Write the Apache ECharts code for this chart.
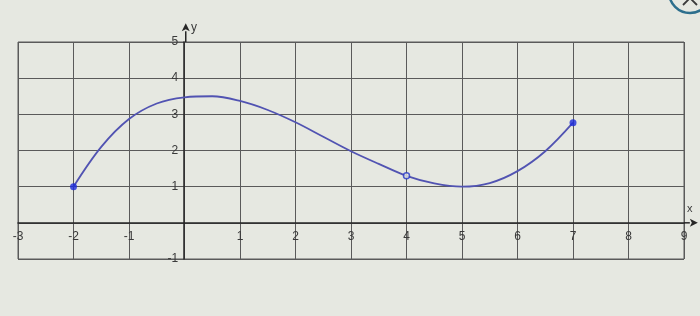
<!DOCTYPE html>
<html><head><meta charset="utf-8">
<script src="https://cdn.jsdelivr.net/npm/echarts@6/dist/echarts.min.js"></script>
<style>html,body{margin:0;padding:0;background:#e6e8e1}#c{width:700px;height:316px}</style>
</head><body><div id="c"></div>
<script>
// Curve
const curveX = [-2, -1.5, -1, -0.5, 0, 0.5, 1, 1.5, 2, 2.5, 3, 3.5, 4, 4.5, 5, 5.5, 6, 6.5, 7];
const curveY = [1.0, 2.1, 2.87, 3.3, 3.47, 3.5, 3.37, 3.12, 2.78, 2.38, 1.98, 1.63, 1.3, 1.09, 1.0, 1.1, 1.43, 1.98, 2.77];
const closedPoints = [[-2, 1.0], [7, 2.77]];
const openPoints = [[4, 1.3]];
const xRange = [-3, 9];
const yRange = [-1, 5];
const xArrowTip = 9.25;
const yArrowTip = 5.52;

const bg = '#e6e8e1';
const gridColor = '#5a5a5a';
const axisColor = '#262626';
const textColor = '#3a3a3a';
const font = 'Liberation Sans, Arial, sans-serif';
const G = {left: 18, right: 16, top: 42, bottom: 57};

const chart = echarts.init(document.getElementById('c'), null, {renderer: 'canvas'});
const hideZero = v => (v === 0 ? '' : String(v));

chart.setOption({
  backgroundColor: bg,
  animation: false,
  grid: Object.assign({show: true, borderColor: gridColor, borderWidth: 1, backgroundColor: 'transparent'}, G),
  xAxis: {
    type: 'value', min: xRange[0], max: xRange[1], interval: 1,
    name: 'x', nameLocation: 'end', nameGap: 3,
    nameTextStyle: {color: textColor, fontSize: 11, fontFamily: font, align: 'left', verticalAlign: 'bottom', padding: [0, 0, 8, 0]},
    axisLine: {show: true, onZero: false, lineStyle: {color: axisColor, width: 1.5}},
    axisTick: {show: false},
    axisLabel: {color: textColor, fontSize: 12, fontFamily: font, margin: 8, formatter: hideZero, showMinLabel: true, showMaxLabel: true},
    splitLine: {show: true, lineStyle: {color: gridColor, width: 1}}
  },
  yAxis: {
    type: 'value', min: yRange[0], max: yRange[1], interval: 1,
    name: 'y', nameLocation: 'end', nameGap: 8,
    nameTextStyle: {color: textColor, fontSize: 12, fontFamily: font, align: 'left', verticalAlign: 'bottom', padding: [0, 0, 0, 7]},
    axisLine: {show: true, onZero: false, lineStyle: {color: axisColor, width: 1.5}},
    axisTick: {show: false},
    axisLabel: {color: textColor, fontSize: 12, fontFamily: font, margin: 6, formatter: hideZero, showMinLabel: true, showMaxLabel: true},
    splitLine: {show: true, lineStyle: {color: gridColor, width: 1}}
  },
  series: [
    {
      name: 'f', type: 'line', smooth: 0.35, showSymbol: false, z: 3,
      data: curveX.map((x, i) => [x, curveY[i]]),
      lineStyle: {color: '#5153b2', width: 1.8}
    },
    {
      name: 'closed', type: 'scatter', symbolSize: 7, z: 4,
      data: closedPoints,
      itemStyle: {color: '#1b2bdc'}
    },
    {
      name: 'open', type: 'scatter', symbolSize: 6, z: 4,
      data: openPoints,
      itemStyle: {color: bg, borderColor: '#2636c8', borderWidth: 1.5}
    }
  ]
});

// Axes on the zero lines and their arrows, positioned via the library's own scale
const px = p => chart.convertToPixel({gridIndex: 0}, p);
const origin = px([0, 0]);
const corner = px([xRange[0], yRange[0]]);
const xEnd = px([xRange[1], 0]);
const xTip = px([xArrowTip, 0]);
const yEnd = px([0, yRange[1]]);
const yTip = px([0, yArrowTip]);
const ah = 8, aw = 4;
chart.setOption({
  xAxis: {offset: -(corner[1] - origin[1])},
  yAxis: {offset: -(origin[0] - corner[0])},
  graphic: [
    {type: 'line', silent: true, shape: {x1: xEnd[0], y1: xEnd[1], x2: xTip[0] - ah, y2: xTip[1]}, style: {stroke: axisColor, lineWidth: 1.5}},
    {type: 'polygon', silent: true, shape: {points: [[xTip[0], xTip[1]], [xTip[0] - ah, xTip[1] - aw], [xTip[0] - ah + 2, xTip[1]], [xTip[0] - ah, xTip[1] + aw]]}, style: {fill: axisColor}},
    {type: 'line', silent: true, shape: {x1: yEnd[0], y1: yEnd[1], x2: yTip[0], y2: yTip[1] + ah}, style: {stroke: axisColor, lineWidth: 1.5}},
    {type: 'polygon', silent: true, shape: {points: [[yTip[0], yTip[1]], [yTip[0] - aw, yTip[1] + ah], [yTip[0], yTip[1] + ah - 2], [yTip[0] + aw, yTip[1] + ah]]}, style: {fill: axisColor}},
    {type: 'circle', silent: true, shape: {cx: 690, cy: -8, r: 21}, style: {fill: 'none', stroke: '#2d6f8d', lineWidth: 2.5}},
    {type: 'polyline', silent: true, shape: {points: [[683, 5], [690, -2], [697, 5]]}, style: {fill: 'none', stroke: '#3a3a3a', lineWidth: 1.8}}
  ]
});
</script>
</body></html>
